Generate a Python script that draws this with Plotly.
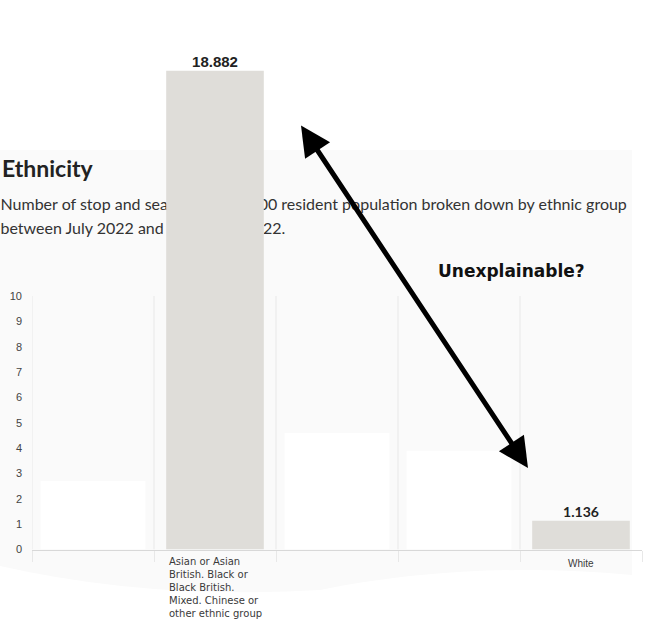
import plotly.graph_objects as go

W, H = 645, 619

# ---- data ----
categories = ["Group 1", "Asian or Asian British. Black or Black British. Mixed. Chinese or other ethnic group",
              "Group 3", "Group 4", "White"]
tick_labels = ["", "Asian or Asian<br>British. Black or<br>Black British.<br>Mixed. Chinese or<br>other ethnic group",
               "", "", "White"]
values = [2.7, 18.882, 4.6, 3.9, 1.136]          # 1, 3 and 4 are whited-out in the picture
erased = [True, False, True, True, False]
value_labels = ["" if e else f"{v:.3f}" for v, e in zip(values, erased)]
y_ticks = list(range(0, 11))
axis_top = 10

title = "Ethnicity"
subtitle_lines = ["Number of stop and searches per 1,000 resident population broken down by ethnic group",
                  "between July 2022 and December 2022."]
callout = "Unexplainable?"

BAR = "#dfddd9"
GRID = "#e8e8e8"


def px_x(x):
    return x / W


def px_y(y):
    return 1 - y / H


# y scale: 0 at pixel 549.5, 10 at pixel 296
PX_PER_UNIT = (549.5 - 296) / axis_top
y_top = 549.5 / PX_PER_UNIT

fig = go.Figure()

# subtitle text on a base layer so the bar (drawn on a later subplot) covers part of it
fig.add_trace(go.Scatter(
    x=[0.5, 0.5], y=[205.5, 230], mode="text", text=subtitle_lines,
    textposition="middle right", cliponaxis=False, hoverinfo="skip",
    textfont=dict(family="Lato", size=16, color="#333333"),
    xaxis="x", yaxis="y", showlegend=False))

# bars
fig.add_trace(go.Bar(
    x=categories, y=values, xaxis="x2", yaxis="y2",
    width=[0.86 if e else 0.8 for e in erased],
    marker=dict(color=["#ffffff" if e else BAR for e in erased], line=dict(width=0)),
    cliponaxis=False, hoverinfo="skip", showlegend=False))

# value labels
fig.add_trace(go.Scatter(
    x=categories, y=values, xaxis="x2", yaxis="y2", mode="text",
    text=value_labels, textposition="top center", cliponaxis=False, hoverinfo="skip",
    textfont=dict(family=["Liberation Sans", "Liberation Sans", "Lato", "Lato", "Lato"],
                  size=[15, 15, 14, 14, 14], color="#222222", weight="bold"),
    showlegend=False))

annotations = []
# category labels
for cat, lab in zip(categories, tick_labels):
    if not lab:
        continue
    multi = "<br>" in lab
    annotations.append(dict(
        x=cat, xref="x2", y=px_y(555 if multi else 557), yref="paper",
        xanchor="center", yanchor="top", align="left", showarrow=False, text=lab,
        borderpad=0,
        font=dict(family="DejaVu Sans" if multi else "Liberation Sans",
                  size=10, color="#3a3a3a")))

annotations.append(dict(
    x=px_x(0), y=px_y(168), xref="paper", yref="paper", xanchor="left", yanchor="middle",
    text=f"<b>{title}</b>", showarrow=False,
    font=dict(family="Lato", size=23, color="#222222")))

annotations.append(dict(
    x=px_x(511), y=px_y(271), xref="paper", yref="paper", xanchor="center", yanchor="middle",
    text=f"<b>{callout}</b>", showarrow=False,
    font=dict(family="DejaVu Sans", size=17, color="#111111")))

# double-headed arrow
annotations.append(dict(
    x=px_x(528), y=px_y(468), xref="paper", yref="paper", text="",
    showarrow=True, ax=300 - 528, ay=124 - 468, axref="pixel", ayref="pixel",
    arrowside="end+start", arrowhead=2, startarrowhead=2,
    arrowwidth=5, arrowsize=1.2, startarrowsize=1.2, arrowcolor="#000000",
    standoff=0, startstandoff=0))

# light panel behind chart
shapes = [dict(
    type="path", xref="paper", yref="paper", layer="below",
    path=(f"M {px_x(0)},{px_y(150)} L {px_x(632)},{px_y(150)} L {px_x(632)},{px_y(575)} "
          f"Q {px_x(470)},{px_y(560)} {px_x(320)},{px_y(590)} "
          f"Q {px_x(150)},{px_y(600)} {px_x(0)},{px_y(566)} Z"),
    fillcolor="#fafafa", line=dict(width=0))]

# vertical gridlines at category boundaries, only over the 0..10 axis span
for i in range(len(categories)):
    shapes.append(dict(type="line", xref="x2", yref="y2", layer="below",
                       x0=i - 0.5, x1=i - 0.5, y0=0, y1=axis_top,
                       line=dict(color=GRID, width=1)))

fig.update_layout(
    width=W, height=H, margin=dict(l=0, r=0, t=0, b=0, pad=0, autoexpand=False),
    paper_bgcolor="#ffffff", plot_bgcolor="rgba(0,0,0,0)",
    showlegend=False, bargap=0.2,
    xaxis=dict(domain=[0, 1], range=[0, W], visible=False, fixedrange=True, automargin=False),
    yaxis=dict(domain=[0, 1], range=[H, 0], visible=False, fixedrange=True, automargin=False),
    xaxis2=dict(domain=[px_x(32), px_x(642)], anchor="y2", type="category",
                categoryorder="array", categoryarray=categories, range=[-0.5, 4.5],
                showgrid=False, tickson="boundaries", automargin=False,
                ticks="outside", ticklen=11, tickcolor=GRID,
                showticklabels=False, showline=True, linecolor="#d8d8d8", linewidth=1,
                zeroline=False),
    yaxis2=dict(domain=[px_y(549.5), 1], anchor="x2", range=[0, y_top],
                tickvals=y_ticks, showgrid=False, zeroline=False, showline=False,
                ticks="", ticklabelstandoff=9, automargin=False,
                tickfont=dict(family="Liberation Sans", size=11, color="#444444")),
    annotations=annotations, shapes=shapes)

fig.write_html("out.html", config={"displayModeBar": False},
               post_script="document.body.style.margin='0';")
